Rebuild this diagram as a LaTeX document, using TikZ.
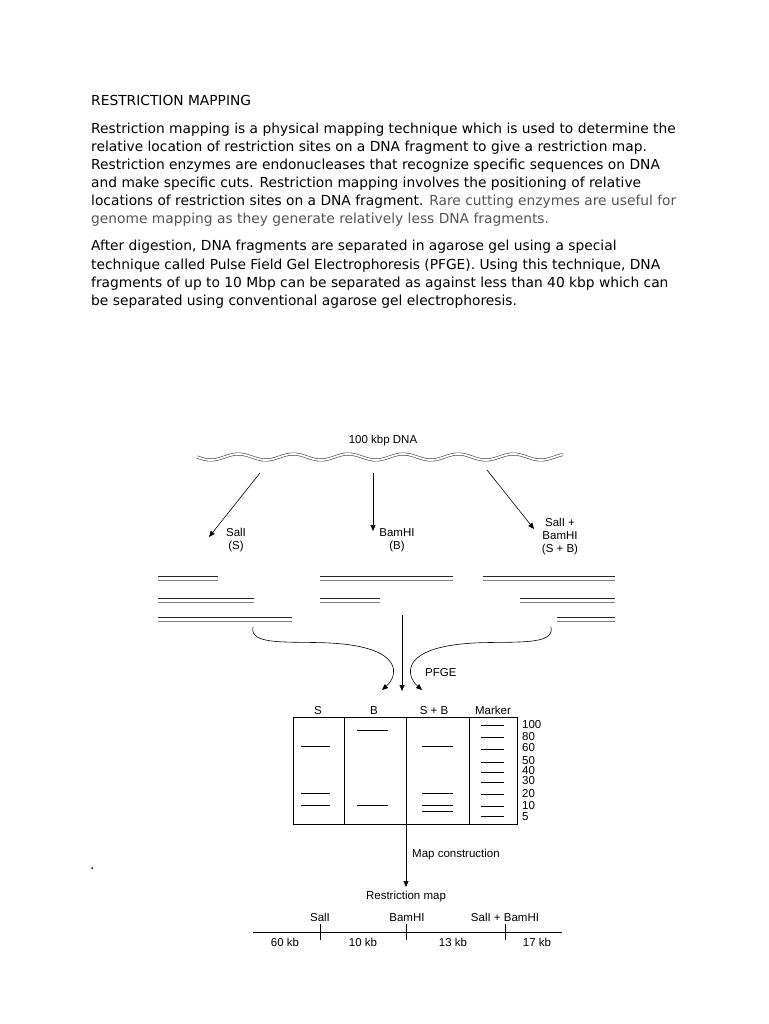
\documentclass[tikz,border=0pt]{standalone}
\usepackage{fontspec}
\setmainfont{DejaVu Sans}
\newfontfamily\diag{Liberation Sans}
\usetikzlibrary{arrows.meta}
\definecolor{greytext}{RGB}{85,85,85}
\newcommand\fragm[3]{\draw[frag] (#1,#3)--(#2,#3); \draw[frag,black!50] (#1,#3+4)--(#2,#3+4);}
\begin{document}
\begin{tikzpicture}[x=1pt,y=-1pt,
 body/.style={anchor=base west, inner sep=0pt, font=\fontsize{13.8}{15}\selectfont},
 lbl/.style={inner sep=0pt, font=\diag\fontsize{11.5}{13}\selectfont, align=center},
 bl/.style={lbl, anchor=base},
 mk/.style={inner sep=0pt, anchor=west, font=\diag\fontsize{11.5}{11}\selectfont},
 arr/.style={-{Triangle[length=6pt,width=5pt]}, line width=0.6pt},
 frag/.style={line width=0.8pt, black!85},
 band/.style={line width=1pt},
 tick/.style={line width=0.6pt}]
\useasboundingbox[fill=white] (0,0) rectangle (768,1024);
% ---- text
\node[body] (t0) at (91,106) {RESTRICTION MAPPING};
\node[body] (t1) at (91,134) {Restriction mapping is a physical mapping technique which is used to determine the};
\node[body] (t2) at (91,152) {relative location of restriction sites on a DNA fragment to give a restriction map.};
\node[body] (t3) at (91,170) {Restriction enzymes are endonucleases that recognize specific sequences on DNA};
\node[body] (t4) at (91,188) {and make specific cuts. Restriction mapping involves the positioning of relative};
\node[body] (t5) at (91,206) {locations of restriction sites on a DNA fragment. \textcolor{greytext}{Rare cutting enzymes are useful for}};
\node[body,text=greytext] (t6) at (91,223) {genome mapping as they generate relatively less DNA fragments.};
\node[body] (t7) at (91,251) {After digestion, DNA fragments are separated in agarose gel using a special};
\node[body] (t8) at (91,269) {technique called Pulse Field Gel Electrophoresis (PFGE). Using this technique, DNA};
\node[body] (t9) at (91,287) {fragments of up to 10 Mbp can be separated as against less than 40 kbp which can};
\node[body] (t10) at (91,305) {be separated using conventional agarose gel electrophoresis.};
\node[body] (dot) at (90,869) {.};
% ---- DNA
\node[lbl] (dna) at (383,441) {100 kbp DNA};
\draw[line width=0.6pt, draw=black!75, double=white, double distance=1.8pt]
  plot[domain=197:563, samples=160, smooth] (\x, {457+3*sin((\x-197)/55*360)});
\coordinate (a1s) at (260,473); \coordinate (a1e) at (209,537);
\coordinate (a2s) at (373,473); \coordinate (a2e) at (373,531);
\coordinate (a3s) at (487,470); \coordinate (a3e) at (534,529);
\draw[arr] (a1s) -- (a1e);
\draw[arr] (a2s) -- (a2e);
\draw[arr] (a3s) -- (a3e);
\node[lbl] (sal) at (236,540) {SalI\\(S)};
\node[lbl] (bam) at (397,540) {BamHI\\(B)};
\node[lbl] (sb) at (560,537) {SalI +\\BamHI\\(S + B)};
% ---- fragments
\fragm{158}{218}{576}
\fragm{158}{254}{598}
\fragm{158}{292}{617}
\fragm{320}{453}{576}
\fragm{320}{380}{598}
\fragm{483}{615}{576}
\fragm{520}{615}{598}
\fragm{557}{615}{617}
% ---- PFGE arrows
\coordinate (c1s) at (253,627); \coordinate (c1e) at (382,690);
\coordinate (c2s) at (402,615); \coordinate (c2e) at (402,691);
\coordinate (c3s) at (551,627); \coordinate (c3e) at (422,690);
\draw[arr] (c1s) .. controls (249,646) and (290,641) .. (330,643) .. controls (405,647) and (398,676) .. (c1e);
\draw[arr] (c2s) -- (c2e);
\draw[arr] (c3s) .. controls (555,646) and (514,641) .. (474,643) .. controls (399,647) and (406,676) .. (c3e);
\node[lbl, anchor=west] (pfge) at (425,673) {PFGE};
% ---- gel
\node[bl] (hS) at (318,714.5) {S};
\node[bl] (hB) at (374,714.5) {B};
\node[bl] (hSB) at (434,714.5) {S + B};
\node[bl] (hM) at (493,714.5) {Marker};
\draw[line width=0.8pt] (293,717) rectangle (517,824);
\draw[line width=0.8pt] (344,717) -- (344,824);
\draw[line width=1pt] (406,717) -- (406,824);
\draw[line width=0.8pt] (469,717) -- (469,824);
\foreach \y in {746,793,805} \draw[band] (301,\y) -- (330,\y);
\foreach \y in {730,805} \draw[band] (357,\y) -- (388,\y);
\foreach \y in {746,793,805,811} \draw[band] (422,\y) -- (453,\y);
\foreach \y in {725,737,749,762,772,782,794,806,816} \draw[line width=0.9pt] (481,\y) -- (504,\y);
\node[mk] (m100) at (522,725) {100};
\node[mk] (m80) at (522,737) {80};
\node[mk] (m60) at (522,748) {60};
\node[mk] (m50) at (522,761) {50};
\node[mk] (m40) at (522,771) {40};
\node[mk] (m30) at (522,781) {30};
\node[mk] (m20) at (522,794) {20};
\node[mk] (m10) at (522,806) {10};
\node[mk] (m5) at (522,817) {5};
% ---- map construction
\coordinate (ms) at (406,824); \coordinate (me) at (406,887);
\draw[arr] (ms) -- (me);
\node[lbl, anchor=west] (mc) at (412,855) {Map construction};
\node[lbl] (rm) at (406,897) {Restriction map};
\node[bl] (ls) at (320,921.5) {SalI};
\node[bl] (lb) at (407,921.5) {BamHI};
\node[bl] (lsb) at (505,921.5) {SalI + BamHI};
\coordinate (mapl) at (253,932); \coordinate (mapr) at (562,932);
\draw[line width=0.7pt] (mapl) -- (mapr);
\foreach \x in {320,406,505} \draw[tick] (\x,924) -- (\x,940);
\node[bl] (k60) at (285,946) {60 kb};
\node[bl] (k10) at (363,946) {10 kb};
\node[bl] (k13) at (453,946) {13 kb};
\node[bl] (k17) at (537,946) {17 kb};
\end{tikzpicture}
\end{document}
